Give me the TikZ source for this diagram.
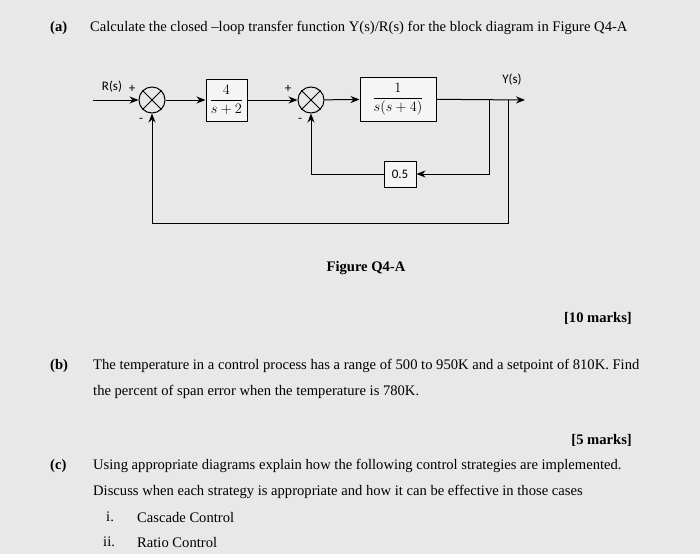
\documentclass[tikz,border=0pt]{standalone}
\usepackage{fontspec}
\setmainfont{Liberation Serif}
\newfontfamily\diag{Carlito}
\usetikzlibrary{arrows.meta}
\begin{document}
\begin{tikzpicture}[x=1pt,y=-1pt,
  txt/.style={anchor=west,inner sep=0pt,font=\fontsize{14.6}{17}\selectfont},
  btxt/.style={font=\bfseries\fontsize{14.6}{17}\selectfont,inner sep=0pt},
  blk/.style={draw,line width=1pt,fill=gray!8,inner sep=2pt},
  sumc/.style={draw,line width=1pt,circle,minimum size=26pt,inner sep=0pt},
  sig/.style={draw,line width=1pt,-{Stealth[length=9pt,width=7pt]}},
  lbl/.style={font=\diag\fontsize{13}{14}\selectfont,inner sep=1pt}]
\fill[gray!18] (0,0) rectangle (700,554);
\useasboundingbox (0,0) rectangle (700,554);
\node[btxt,anchor=west] (qa) at (50,28) {(a)};
\node[txt] (ta) at (90,28) {Calculate the closed –loop transfer function Y(s)/R(s) for the block diagram in Figure Q4-A};
% diagram
\coordinate (in) at (93,100);
\node[sumc] (s1) at (152,100) {};
\draw[line width=1pt] (s1.north west)--(s1.south east) (s1.north east)--(s1.south west);
\node[blk,minimum width=41pt,minimum height=42pt,inner sep=1pt] (g1) at (226.5,100) {\fontsize{15.5}{17}\selectfont$\displaystyle\frac{4}{s+2}$};
\node[sumc] (s2) at (311,100) {};
\draw[line width=1pt] (s2.north west)--(s2.south east) (s2.north east)--(s2.south west);
\node[blk,minimum width=76pt,minimum height=44pt] (g2) at (398,99) {\fontsize{15.5}{17}\selectfont$\displaystyle\frac{1}{s(s+4)}$};
\node[blk,minimum width=32pt,minimum height=26pt,font=\diag\fontsize{13}{14}\selectfont] (h) at (400,174) {0.5};
\coordinate (b1) at (489,100);
\coordinate (b2) at (508,100);
\coordinate (out) at (525,100);
\draw[sig] (in)--(s1);
\draw[sig] (s1)--(g1);
\draw[sig] (g1)--(s2);
\draw[sig] (s2)--(g2);
\draw[sig] (g2)--(out);
\draw[sig] (b1)|-(h);
\draw[sig] (h)-|(s2);
\draw[sig] (b2)--(508,223)-|(s1);
\node[lbl] (r) at (112,87) {R(s)};
\node[lbl] (y) at (512,80) {Y(s)};
\node[lbl] (p1) at (132,89) {+};
\node[lbl] (m1) at (141,120) {-};
\node[lbl] (p2) at (288,89) {+};
\node[lbl] (m2) at (300,120) {-};
\node[btxt] (fig) at (366,268) {Figure Q4-A};
\node[btxt,anchor=east] (m10) at (632,318) {[10 marks]};
\node[btxt,anchor=west] (qb) at (50,366) {(b)};
\node[txt] (tb1) at (93,366) {The temperature in a control process has a range of 500 to 950K and a setpoint of 810K. Find};
\node[txt] (tb2) at (93,392) {the percent of span error when the temperature is 780K.};
\node[btxt,anchor=east] (m5) at (632,440) {[5 marks]};
\node[btxt,anchor=west] (qc) at (50,466) {(c)};
\node[txt] (tc1) at (93,466) {Using appropriate diagrams explain how the following control strategies are implemented.};
\node[txt] (tc2) at (93,492) {Discuss when each strategy is appropriate and how it can be effective in those cases};
\node[txt] (i1) at (106,517) {i.};
\node[txt] (i1t) at (137,517) {Cascade Control};
\node[txt] (i2) at (103,542) {ii.};
\node[txt] (i2t) at (137,542) {Ratio Control};
\end{tikzpicture}
\end{document}
